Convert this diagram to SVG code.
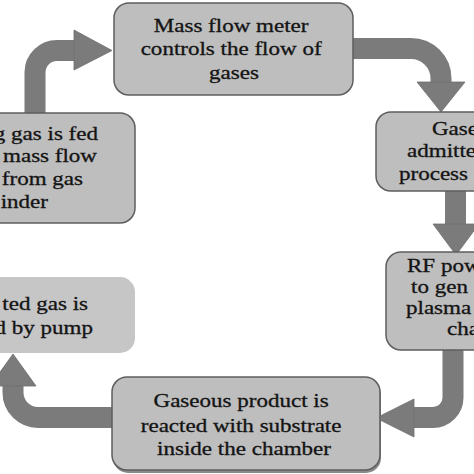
<svg xmlns="http://www.w3.org/2000/svg" width="474" height="474" viewBox="0 0 474 474">
<style>
.box{fill:#bebebe;stroke:#5e5e5e;stroke-width:1.5}
.soft{fill:#c6c6c6;stroke:none}
.shaft{fill:none;stroke:#7b7b7b;stroke-width:21}
.head{fill:#7b7b7b;stroke:#6e6e6e;stroke-width:0.8}
.t{font-family:'Liberation Serif',serif;font-size:18px;fill:#141414;stroke:#141414;stroke-width:0.3}
</style>
<rect width="474" height="474" fill="#ffffff"/>
<g id="connectors">
  <path class="shaft" d="M35,115 L35,72 A22,22 0 0 1 57,50.5 L76,50.5"/>
  <polygon class="head" points="74,30 112,50.5 74,70"/>
  <path class="shaft" d="M350,48.5 L411,48.5 A30,30 0 0 1 441,78.5 L441,84"/>
  <polygon class="head" points="417,82 465,82 441,112"/>
  <path class="shaft" d="M455.5,190 L455.5,226"/>
  <polygon class="head" points="433,224 479,224 456,255"/>
  <path class="shaft" d="M453,349 L453,397.5 A20,20 0 0 1 433,417.5 L412,417.5"/>
  <polygon class="head" points="414,399 414,437 376,418"/>
  <path class="shaft" d="M114,417.5 L38,417.5 A25,25 0 0 1 13,392.5 L13,384"/>
  <polygon class="head" points="-10,386 36,386 13,354"/>
</g>
<g id="node-mfm">
  <rect class="box" x="114" y="3" width="239" height="92" rx="15"/>
  <text class="t" transform="translate(234,0) scale(1.28,1)" text-anchor="middle">
    <tspan x="0" y="32">Mass flow meter</tspan>
    <tspan x="0" y="55">controls the flow of</tspan>
    <tspan x="0" y="79">gases</tspan>
  </text>
</g>
<g id="node-feed">
  <rect class="box" x="-104" y="113" width="239" height="110" rx="15"/>
  <text class="t" transform="translate(98,0) scale(1.28,1)" text-anchor="end"><tspan x="0" y="140">g gas is fed</tspan></text>
  <text class="t" transform="translate(97,0) scale(1.28,1)" text-anchor="end"><tspan x="0" y="162">mass flow</tspan></text>
  <text class="t" transform="translate(83,0) scale(1.28,1)" text-anchor="end"><tspan x="0" y="185">from gas</tspan></text>
  <text class="t" transform="translate(48,0) scale(1.28,1)" text-anchor="end"><tspan x="0" y="208">inder</tspan></text>
</g>
<g id="node-admit">
  <rect class="box" x="376" y="112" width="239" height="79" rx="15"/>
  <text class="t" transform="translate(432,0) scale(1.28,1)"><tspan x="0" y="135">Gase</tspan></text>
  <text class="t" transform="translate(407,0) scale(1.28,1)"><tspan x="0" y="157">admitte</tspan></text>
  <text class="t" transform="translate(399,0) scale(1.28,1)"><tspan x="0" y="180">process</tspan></text>
</g>
<g id="node-rf">
  <rect class="box" x="386" y="252" width="239" height="98" rx="15"/>
  <text class="t" transform="translate(407,0) scale(1.28,1)"><tspan x="0" y="272">RF pow</tspan></text>
  <text class="t" transform="translate(411,0) scale(1.28,1)"><tspan x="0" y="293">to gen</tspan></text>
  <text class="t" transform="translate(406,0) scale(1.28,1)"><tspan x="0" y="314">plasma</tspan></text>
  <text class="t" transform="translate(447,0) scale(1.28,1)"><tspan x="0" y="335">cha</tspan></text>
</g>
<g id="node-react">
  <rect x="113" y="380" width="268" height="93" rx="15" fill="#8a8a8a"/>
  <rect class="box" x="112" y="377" width="268" height="93" rx="15"/>
  <text class="t" transform="translate(244,0) scale(1.28,1)" text-anchor="middle">
    <tspan x="0" y="407">Gaseous product is</tspan>
    <tspan x="0" y="432">reacted with substrate</tspan>
    <tspan x="0" y="455">inside the chamber</tspan>
  </text>
</g>
<g id="node-pump">
  <rect class="soft" x="-104" y="277" width="239" height="76" rx="15"/>
  <text class="t" transform="translate(88,0) scale(1.28,1)" text-anchor="end"><tspan x="0" y="310">ted gas is</tspan></text>
  <text class="t" transform="translate(93,0) scale(1.28,1)" text-anchor="end"><tspan x="0" y="334">d by pump</tspan></text>
</g>
</svg>
